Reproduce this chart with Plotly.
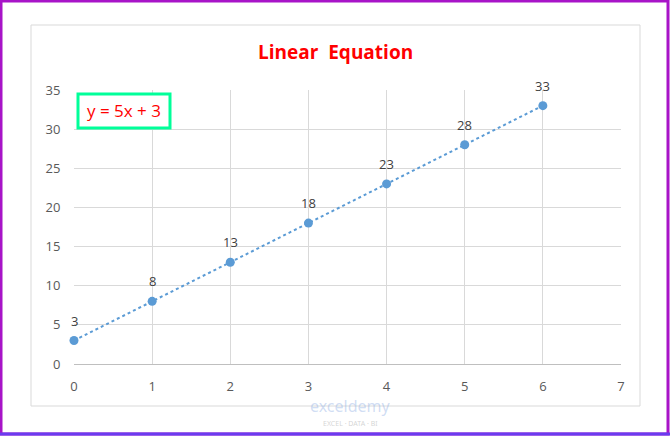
import plotly.graph_objects as go

x_vals = [0, 1, 2, 3, 4, 5, 6]
y_vals = [3, 8, 13, 18, 23, 28, 33]
title_text = "Linear  Equation"
eq_text = "y = 5x + 3"

W, H = 670, 436
L, R, T, B = 74, 49, 90, 72
pw, ph = W - L - R, H - T - B

def px(xp):
    return (xp - L) / pw

def py(yp):
    return (H - B - yp) / ph

fig = go.Figure()
fig.add_trace(go.Scatter(
    x=x_vals, y=y_vals, mode="lines+markers",
    line=dict(color="#5b9bd5", width=2, dash="dot"),
    marker=dict(color="#5b9bd5", size=9),
    cliponaxis=False, showlegend=False,
))

shapes = [
    dict(type="rect", xref="paper", yref="paper", x0=px(31), x1=px(640), y0=py(406), y1=py(25),
         line=dict(color="#d9d9d9", width=1), layer="below"),
    dict(type="rect", xref="paper", yref="paper", x0=px(1), x1=px(668), y0=py(434), y1=py(1),
         line=dict(color="#a814c8", width=3)),
    dict(type="line", xref="paper", yref="paper", x0=px(0), x1=px(670), y0=py(434), y1=py(434),
         line=dict(color="#6a3bf0", width=3)),
    dict(type="rect", xref="paper", yref="paper", x0=px(78), x1=px(170), y0=py(128), y1=py(94),
         line=dict(color="#00ff99", width=3), fillcolor="white"),
]

annotations = [
    dict(text="<b>" + title_text + "</b>", xref="paper", yref="paper", x=px(335), y=py(52),
         showarrow=False, font=dict(family="Open Sans, Noto Sans, sans-serif", size=19, color="#ff0000"),
         xanchor="center", yanchor="middle"),
    dict(text=eq_text, xref="paper", yref="paper", x=px(124), y=py(111),
         showarrow=False, font=dict(family="Open Sans, Noto Sans, sans-serif", size=17, color="#ff0000"),
         xanchor="center", yanchor="middle"),
    dict(text="exceldemy", xref="paper", yref="paper", x=px(350), y=py(406),
         showarrow=False, font=dict(family="Noto Sans, sans-serif", size=16, color="rgba(150,180,230,0.45)"),
         xanchor="center", yanchor="middle"),
    dict(text="EXCEL · DATA · BI", xref="paper", yref="paper", x=px(350), y=py(423),
         showarrow=False, font=dict(family="Noto Sans, sans-serif", size=7, color="rgba(170,170,170,0.5)"),
         xanchor="center", yanchor="middle"),
]
for xv, yv in zip(x_vals, y_vals):
    annotations.append(dict(
        x=xv, y=yv, xref="x", yref="y", text=str(yv), showarrow=False,
        yshift=20, xanchor="center", yanchor="middle",
        font=dict(family="Open Sans, Noto Sans, sans-serif", size=13, color="#404040")))

fig.update_layout(
    width=W, height=H,
    margin=dict(l=L, r=R, t=T, b=B),
    paper_bgcolor="white", plot_bgcolor="white",
    shapes=shapes, annotations=annotations,
    xaxis=dict(range=[0, 7], tickmode="linear", tick0=0, dtick=1,
               showgrid=True, gridcolor="#d9d9d9", gridwidth=1,
               zeroline=False, showline=True, linecolor="#bfbfbf", linewidth=1,
               ticks="outside", ticklen=10, tickcolor="rgba(0,0,0,0)",
               tickfont=dict(family="Open Sans, Noto Sans, sans-serif", size=13, color="#595959")),
    yaxis=dict(range=[0, 35], tickmode="linear", tick0=0, dtick=5,
               showgrid=True, gridcolor="#d9d9d9", gridwidth=1,
               zeroline=False, showline=False,
               ticks="outside", ticklen=10, tickcolor="rgba(0,0,0,0)",
               tickfont=dict(family="Open Sans, Noto Sans, sans-serif", size=13, color="#595959")),
)

fig.write_html("out.html", config={"displayModeBar": False},
               post_script="document.body.style.margin='0';")
